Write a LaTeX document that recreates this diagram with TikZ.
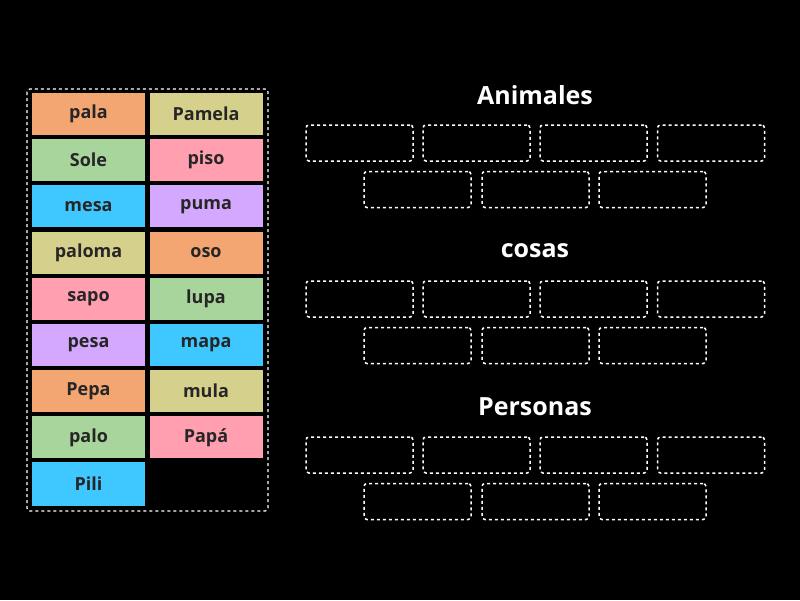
\documentclass[tikz,border=0pt]{standalone}
\usepackage{fontspec}
\setmainfont{Open Sans}
\definecolor{cor}{HTML}{F4A672}
\definecolor{ckh}{HTML}{D5D18C}
\definecolor{cgr}{HTML}{A8D59B}
\definecolor{cpk}{HTML}{FF9FB0}
\definecolor{cbl}{HTML}{3FC8FF}
\definecolor{cpu}{HTML}{D5A8FF}
\begin{document}
\begin{tikzpicture}[x=1pt,y=-1pt,
 tile/.style={minimum width=113pt,minimum height=42pt,inner sep=0pt,font=\fontsize{18}{20}\selectfont\bfseries,text=black!85},
 slot/.style={draw=white,dashed,line width=1.5pt,rounded corners=3pt,minimum width=107pt,minimum height=36pt,inner sep=0pt},
 head/.style={text=white,font=\fontsize{25}{28}\selectfont\bfseries}]
\fill[black] (0,0) rectangle (800,600);
\useasboundingbox (0,0) rectangle (800,600);
\draw[white,dashed,line width=1.3pt,rounded corners=3pt] (27,89) rectangle (268,511);
\foreach \r/\a/\ca/\b/\cb in {0/pala/cor/Pamela/ckh,1/Sole/cgr/piso/cpk,2/mesa/cbl/puma/cpu,3/paloma/ckh/oso/cor,4/sapo/cpk/lupa/cgr,5/pesa/cpu/mapa/cbl,6/Pepa/cor/mula/ckh,7/palo/cgr/Papá/cpk}{
  \node[tile,fill=\ca] (l\r) at (88.5,{114+46.2*\r}) {\a};
  \node[tile,fill=\cb] (r\r) at (206,{114+46.2*\r}) {\b};
}
\node[tile,fill=cbl,minimum height=44pt] (l8) at (88.5,483.5) {Pili};
\foreach \n/\t/\y in {a/Animales/95,c/cosas/251,p/Personas/407}{
  \node[head] (h\n) at (535,\y) {\t};
  \foreach \x [count=\i] in {359.5,476.5,593.5,711}{
    \node[slot] (s\n\i) at (\x,\y+48) {};}
  \foreach \x [count=\i] in {417.5,535.5,652.5}{
    \node[slot] (t\n\i) at (\x,\y+94.5) {};}
}
\end{tikzpicture}
\end{document}
